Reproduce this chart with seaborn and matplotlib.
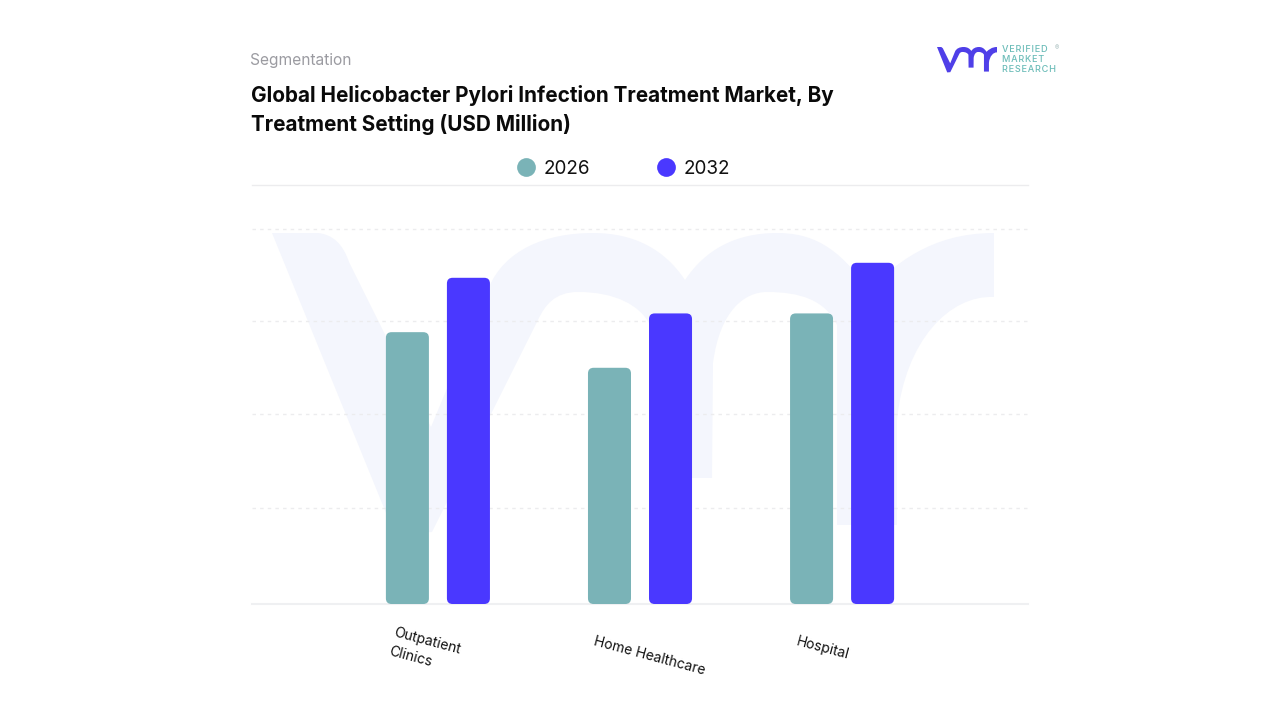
import pandas as pd
import matplotlib
matplotlib.use('Agg')
import matplotlib.pyplot as plt
import seaborn as sns
from matplotlib.lines import Line2D
from matplotlib.patches import FancyBboxPatch, PathPatch
from matplotlib.path import Path
from matplotlib.transforms import ScaledTranslation

# values, no axis labels so units are grid steps
categories = ['Outpatient\nClinics', 'Home Healthcare', 'Hospital']
values_2026 = [2.90, 2.52, 3.10]
values_2032 = [3.48, 3.10, 3.64]
years = ['2026', '2032']
colors = ['#7ab3b7', '#4a38ff']
grid_levels = [1.024, 2.027, 3.02, 4.0]

sns.set_theme(style='white')
plt.rcParams['font.family'] = ['Inter', 'DejaVu Sans']

df = pd.DataFrame({
    'category': categories * 2,
    'year': [years[0]] * 3 + [years[1]] * 3,
    'value': values_2026 + values_2032,
})

W, H = 1280, 720
fig = plt.figure(figsize=(12.8, 7.2), dpi=100, facecolor='white')

# background layer in pixel coords for texts, logo and watermark
bg = fig.add_axes([0, 0, 1, 1], zorder=0)
bg.set_xlim(0, W)
bg.set_ylim(H, 0)
bg.axis('off')

M, L, C3, C4 = Path.MOVETO, Path.LINETO, Path.CURVE3, Path.CURVE4
shape = [
    (M, (272, 233)), (L, (318, 233)), (C3, (340, 235)), (C3, (349, 262)),
    (L, (431, 427)), (L, (489, 287)),
    (C4, (505, 250)), (C4, (545, 233)), (C4, (593, 233)),
    (C4, (635, 233)), (C4, (665, 250)), (C4, (685, 280)),
    (C4, (705, 250)), (C4, (735, 233)), (C4, (777, 233)),
    (C4, (810, 233)), (C4, (838, 245)), (C4, (868, 290)),
    (C4, (895, 265)), (C4, (930, 233)), (C4, (994, 233)),
    (L, (994, 297)),
    (C4, (950, 295)), (C4, (905, 340)), (C4, (897, 420)),
    (L, (897, 525)), (L, (837, 525)), (L, (837, 325)),
    (C4, (825, 300)), (C4, (800, 292)), (C4, (767, 292)),
    (C4, (745, 292)), (C4, (720, 310)), (C4, (713, 363)),
    (L, (712, 478)), (L, (652, 478)), (L, (650, 325)),
    (C4, (640, 305)), (C4, (615, 292)), (C4, (578, 292)),
    (C4, (555, 292)), (C4, (545, 305)), (C4, (538, 320)),
    (L, (432, 532)), (L, (395, 535)), (L, (272, 233)),
]
codes = [s[0] for s in shape]
verts = [s[1] for s in shape]
bg.add_patch(PathPatch(Path(verts, codes), fc='#f4f6fd', ec='none'))

# same outline scaled down for the logo
logo = [(937 + (x - 272) * 60 / 722, 47 + (y - 233) * 25 / 297) for x, y in verts]
bg.add_patch(PathPatch(Path(logo, codes), fc='#4f3fe8', ec='none'))
for word, ypx in [('VERIFIED', 50), ('MARKET', 59.5), ('RESEARCH', 69)]:
    bg.text(1002, ypx, '\u200a'.join(word), color='#6bbcb8', fontsize=6.6, va='center',
            fontweight='medium', family=['Inter', 'DejaVu Sans'])
bg.text(1057, 48, '®', color='#9fb8b8', fontsize=4.5, va='center', ha='center')

bg.text(250, 60, 'Segmentation', color='#9b9ba1', fontsize=11.2, va='center')
bg.text(251, 95.5, 'Global Helicobacter Pylori Infection Treatment Market, By',
        color='#0a0a0a', fontsize=14.9, fontweight='bold', va='center')
bg.text(251, 124.5, 'Treatment Setting (USD Million)',
        color='#0a0a0a', fontsize=14.9, fontweight='bold', va='center')

# main chart, axes box from 252..1028 and 185..604 px
ax = fig.add_axes([252 / W, 1 - 604 / H, 776 / W, 419 / H], zorder=1)
ax.patch.set_alpha(0)
sns.barplot(data=df, x='category', y='value', hue='year', palette=colors,
            width=0.604, gap=0.295, legend=False, ax=ax, saturation=1)
ax.set_xlim(-0.92, 2.92)
ax.set_ylim(0, 4.47)
ax.set_xlabel('')
ax.set_ylabel('')

# rounded bars
for bar in list(ax.patches):
    x, y = bar.get_x(), bar.get_y()
    w, h = bar.get_width(), bar.get_height()
    col = bar.get_facecolor()
    bar.remove()
    ax.add_patch(FancyBboxPatch((x, y), w, h, boxstyle='round,pad=0,rounding_size=0.028',
                                mutation_aspect=2.155, fc=col, ec='none', zorder=3))

ax.set_yticks(grid_levels)
ax.set_yticklabels([])
ax.grid(axis='y', color='#ececee', linestyle=(0, (2.5, 3)), linewidth=1)
ax.set_axisbelow(True)
ax.tick_params(left=False, bottom=False)
sns.despine(ax=ax, left=True, right=True, top=False, bottom=False)
ax.spines['top'].set_color('#ececee')
ax.spines['top'].set_linewidth(1)
ax.spines['bottom'].set_color('#eff0f2')
ax.spines['bottom'].set_linewidth(1.5)

ax.tick_params(axis='x', pad=21)
shift = ScaledTranslation(-0.46, 0, fig.dpi_scale_trans)
for lab in ax.get_xticklabels():
    lab.set_rotation(-15)
    lab.set_rotation_mode('anchor')
    lab.set_ha('left')
    lab.set_va('center')
    lab.set_fontsize(10)
    lab.set_color('#111111')
    lab.set_linespacing(1.45)
    lab.set_transform(lab.get_transform() + shift)

handles = [Line2D([], [], ls='none', marker='o', ms=13.5, mfc=c, mec='none') for c in colors]
fig.legend(handles, years, loc='center', bbox_to_anchor=(623.5 / W, 1 - 169 / H), ncol=2,
           frameon=False, fontsize=13.6, columnspacing=3.5, handlelength=1, handletextpad=0.45,
           labelcolor='#111111')

fig.savefig('out.png', dpi=100)
